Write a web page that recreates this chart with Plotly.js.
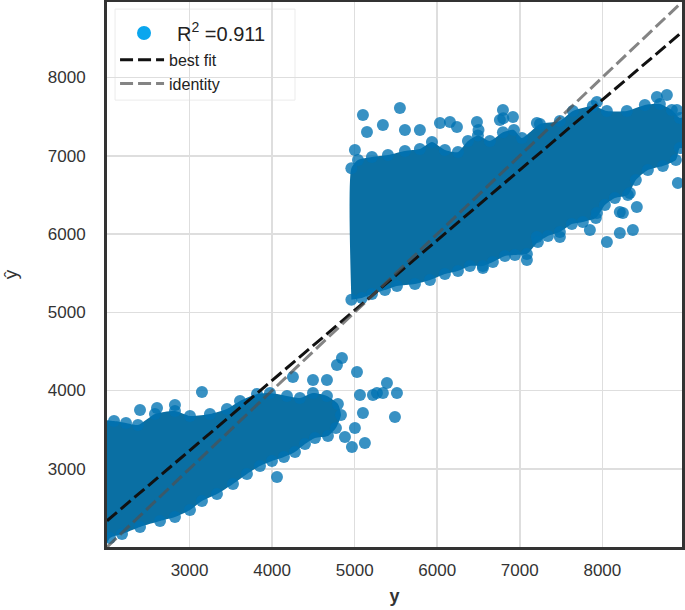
<!DOCTYPE html>
<html>
<head>
<meta charset="utf-8">
<script src="https://cdn.plot.ly/plotly-3.0.1.min.js"></script>
<style>
  html, body { margin: 0; padding: 0; background: #fff; }
  #chart { width: 685px; height: 610px; }
</style>
</head>
<body>
<div id="chart"></div>
<script>
// axis limits (same on both axes, like the prediction error plot)
const lims = [2000, 8965]
const tickVals = [3000, 4000, 5000, 6000, 7000, 8000]
const tickText = ['3000', '4000', '5000', '6000', '7000', '8000']

// best fit line, read at the two axis limits
const bestFitX = [2000, 8965]
const bestFitY = [2335, 8580]

// points along the edge of the dense lower cloud (y < 5000), the cloud is filled inside
const lowX = [1900, 1900, 2085, 2230, 2375, 2581, 2823, 3005, 3247, 3453, 3611, 3817, 3974, 4180, 4337, 4495, 4664, 4797, 4834, 4773, 4676, 4519, 4398, 4277, 4143, 3998, 3853, 3695, 3526, 3332, 3150, 3005, 2823, 2642, 2400, 2182, 2036, 1950, 1900]
const lowY = [1940, 3610, 3610, 3585, 3559, 3700, 3738, 3674, 3700, 3764, 3866, 3955, 3968, 3930, 3904, 3968, 3930, 3828, 3687, 3521, 3419, 3393, 3316, 3214, 3150, 3099, 3035, 2933, 2805, 2677, 2588, 2473, 2383, 2332, 2256, 2166, 2115, 1940, 1940]

// points along the edge of the dense upper cloud (y >= 5000)
const highX = [4960, 4960, 5040, 5209, 5403, 5609, 5790, 5936, 6093, 6251, 6372, 6493, 6638, 6796, 6929, 7026, 7244, 7486, 7643, 7885, 8055, 8297, 8515, 8697, 8842, 8939, 9060,
  9060, 8939, 8891, 8733, 8552, 8406, 8309, 8152, 8031, 7922, 7764, 7631, 7486, 7341, 7219, 7086, 6941, 6820, 6674, 6553, 6396, 6251, 6093, 5912, 5730, 5512, 5367, 5209, 5088]
const highY = [5160, 6840, 6946, 6984, 7010, 7061, 7086, 7176, 7074, 7048, 7189, 7260, 7189, 7300, 7330, 7227, 7406, 7444, 7572, 7636, 7572, 7572, 7649, 7662, 7585, 7483, 7521,
  7074, 7099, 6946, 6869, 6818, 6690, 6499, 6460, 6371, 6205, 6154, 6128, 6026, 5975, 5898, 5744, 5732, 5719, 5642, 5591, 5591, 5527, 5489, 5412, 5361, 5336, 5284, 5233, 5182]

// scattered points outside the dense clouds
const ptX = [3150, 2606, 2823, 2400, 4495, 4664, 4252, 4846, 4785, 5028, 5391, 5512, 5270, 5064, 5100, 5488, 5003, 4882, 4967, 5124, 4059, 5342, 5221,
  5100, 5548, 5149, 5342, 5609, 5790, 6033, 6154, 6239, 6481, 6796, 6917, 6759, 7207, 7934, 8661, 8782, 8903, 5003, 6500, 6800,
  6553, 7086, 7486, 7849, 8055, 8212, 8370, 8249, 8418, 8333, 8915, 7207, 7934, 8212]
const ptY = [3981, 3776, 3815, 3751, 4134, 4134, 4173, 4415, 4326, 4237, 4096, 3968, 3968, 3943, 3713, 3661, 3521, 3406, 3278, 3329, 2895, 3968, 3943,
  7521, 7610, 7304, 7393, 7329, 7329, 7419, 7432, 7368, 7432, 7585, 7495, 7457, 7419, 7687, 7751, 7777, 7585, 7074, 7330, 7480,
  5566, 5668, 5962, 6051, 5898, 6013, 6051, 6269, 6345, 6524, 6652, 5962, 6269, 6281]

const r2Label = 'R<sup>2</sup> =0.911'

const pointBlue = 'rgba(0,114,178,0.78)'
const denseBlue = '#0a6fa3'

var lowCloud = {
  x: lowX, y: lowY, type: 'scatter', mode: 'markers',
  fill: 'toself', fillcolor: denseBlue,
  line: { shape: 'spline', smoothing: 0.6 },
  marker: { size: 12, color: pointBlue, line: { width: 0 } },
  showlegend: false, hoverinfo: 'skip'
};

var highCloud = {
  x: highX, y: highY, type: 'scatter', mode: 'markers',
  fill: 'toself', fillcolor: denseBlue,
  line: { shape: 'spline', smoothing: 0.6 },
  marker: { size: 12, color: pointBlue, line: { width: 0 } },
  showlegend: false, hoverinfo: 'skip'
};

var points = {
  x: ptX, y: ptY, type: 'scatter', mode: 'markers',
  marker: { size: 12, color: pointBlue, line: { width: 0 } },
  showlegend: false
};

// legend only entry, the legend dot is a brighter blue
var r2Entry = {
  x: [null], y: [null], type: 'scatter', mode: 'markers',
  marker: { size: 14, color: '#0aa6ee' },
  name: r2Label,
  legend: 'legend'
};

var bestFit = {
  x: bestFitX, y: bestFitY, type: 'scatter', mode: 'lines',
  line: { color: '#111111', width: 3, dash: '13px,5px' },
  name: 'best fit',
  legend: 'legend2'
};

var identity = {
  x: lims, y: lims, type: 'scatter', mode: 'lines',
  line: { color: 'rgba(80,80,80,0.7)', width: 3, dash: '13px,5px' },
  name: 'identity',
  legend: 'legend2'
};

var axisCommon = {
  range: lims,
  tickvals: tickVals,
  ticktext: tickText,
  showgrid: true,
  gridcolor: '#dedede',
  gridwidth: 1.5,
  zeroline: false,
  showline: true,
  mirror: true,
  linecolor: '#333333',
  linewidth: 3,
  ticks: 'outside',
  tickcolor: 'rgba(0,0,0,0)',
  tickfont: { family: 'Liberation Sans, Arial, sans-serif', size: 17, color: '#333333' }
};

var layout = {
  width: 685,
  height: 610,
  margin: { l: 107, r: 3, t: 2, b: 63 },
  paper_bgcolor: '#ffffff',
  plot_bgcolor: '#ffffff',
  font: { family: 'Liberation Sans, Arial, sans-serif', color: '#333333' },
  xaxis: Object.assign({}, axisCommon, {
    ticklen: 6,
    title: { text: '<b>y</b>', font: { size: 18, color: '#333333' }, standoff: 10 }
  }),
  yaxis: Object.assign({}, axisCommon, {
    ticklen: 15,
    title: { text: 'ŷ', font: { size: 19, color: '#333333' }, standoff: 30 }
  }),
  // white box behind both legends
  shapes: [{
    type: 'rect', xref: 'paper', yref: 'paper',
    x0: 0.014, x1: 0.327, y0: 0.82, y1: 0.987,
    fillcolor: '#ffffff', line: { color: '#ebebeb', width: 1 },
    layer: 'between'
  }],
  legend: {
    x: 0.007, y: 0.943, xanchor: 'left', yanchor: 'middle',
    bgcolor: 'rgba(0,0,0,0)', borderwidth: 0,
    font: { size: 20, color: '#222222' },
    itemwidth: 56
  },
  legend2: {
    x: 0.014, y: 0.872, xanchor: 'left', yanchor: 'middle',
    bgcolor: 'rgba(0,0,0,0)', borderwidth: 0,
    font: { size: 16, color: '#222222' },
    itemwidth: 44
  },
  showlegend: true
};

var data = [lowCloud, highCloud, points, r2Entry, bestFit, identity];
Plotly.newPlot('chart', data, layout, { displayModeBar: false, staticPlot: true });
</script>
</body>
</html>
